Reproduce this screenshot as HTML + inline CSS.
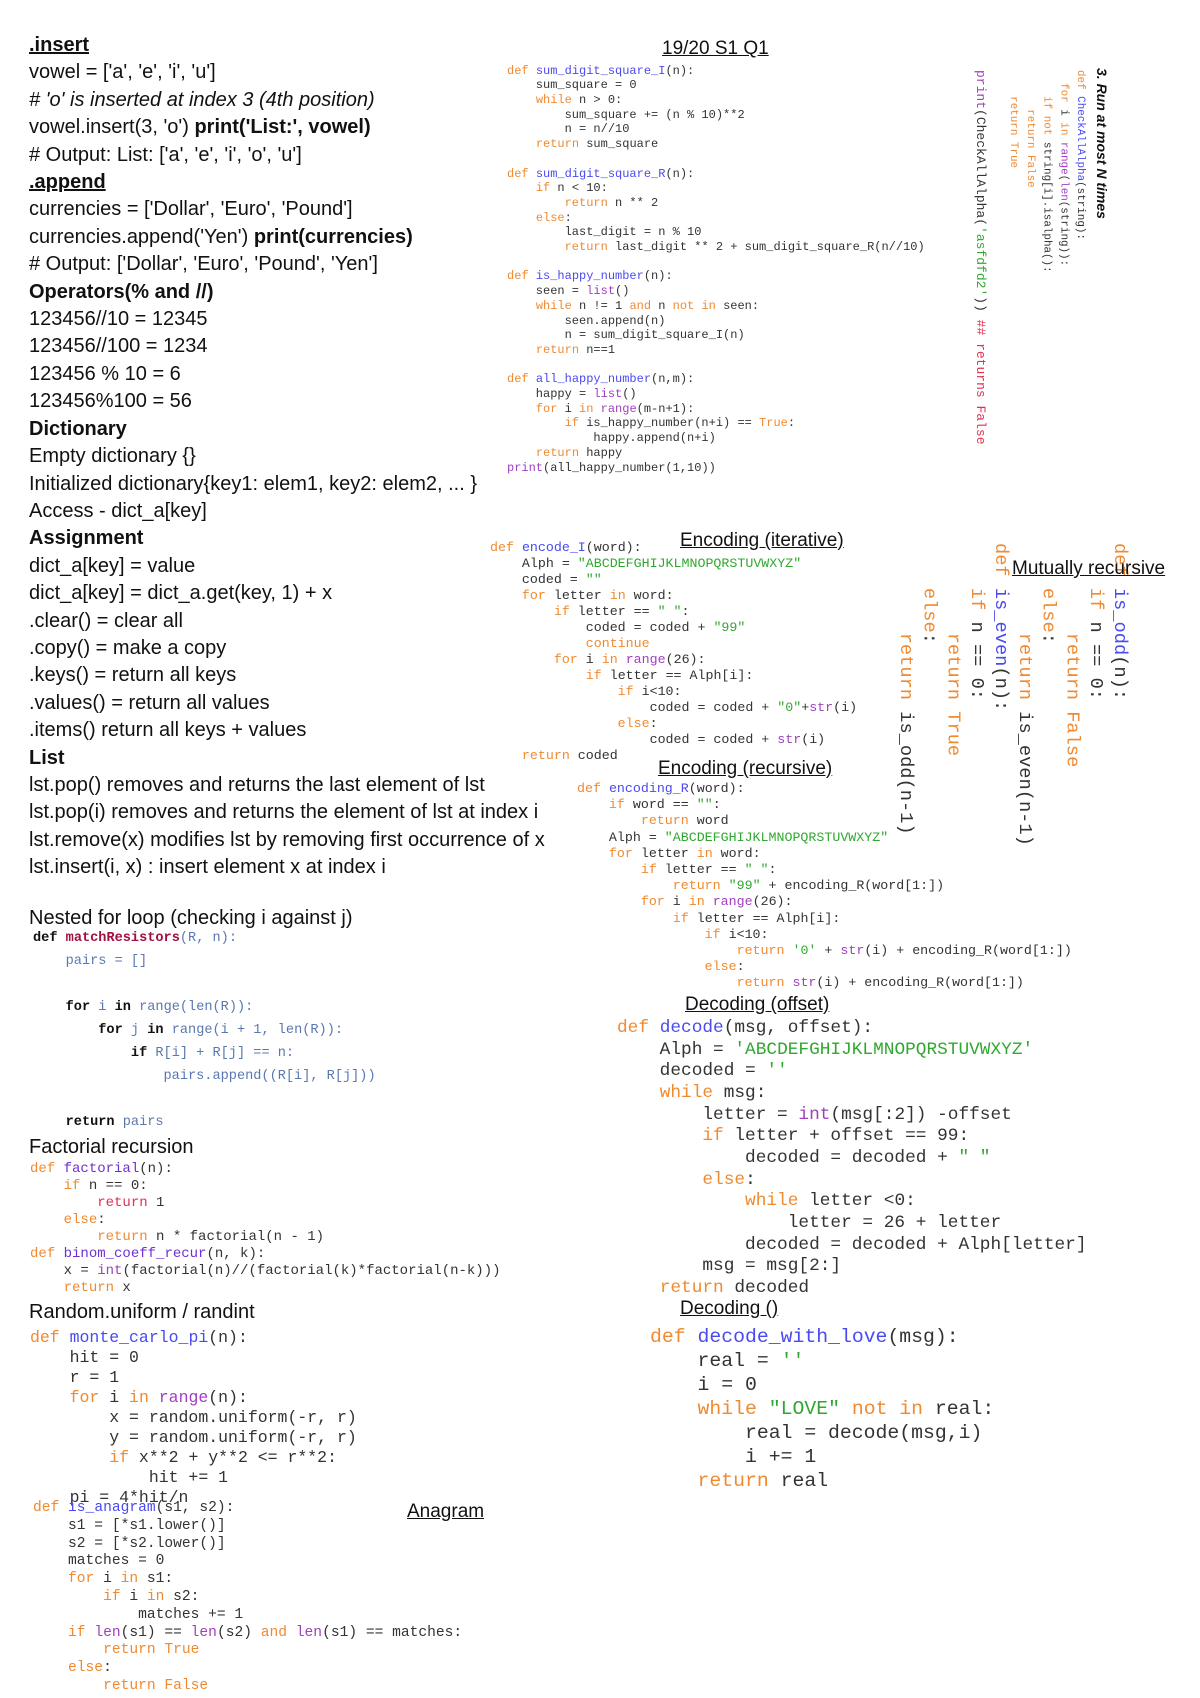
<!DOCTYPE html>
<html><head><meta charset="utf-8">
<style>
html,body{margin:0;padding:0;background:#fff;}
body{width:1200px;height:1698px;position:relative;overflow:hidden;font-family:"Liberation Sans",sans-serif;color:#111;}
.a{position:absolute;white-space:pre;margin:0;}
.m{font-family:"Liberation Mono",monospace;color:#333;}
.k{color:#f08a30}.f{color:#4a4af0}.b{color:#a040c0}.s{color:#30a830}.r{color:#e03050}
.h{font-size:19px;text-decoration:underline;color:#111;}
.v{writing-mode:vertical-rl;}
</style></head><body>

<div class="a" style="left:29px;top:32px;font-size:20px;line-height:27.4px;"><b><u>.insert</u></b>
vowel = ['a', 'e', 'i', 'u']
<i># 'o' is inserted at index 3 (4th position)</i>
vowel.insert(3, 'o') <b>print('List:', vowel)</b>
# Output: List: ['a', 'e', 'i', 'o', 'u']
<b><u>.append</u></b>
currencies = ['Dollar', 'Euro', 'Pound']
currencies.append('Yen') <b>print(currencies)</b>
# Output: ['Dollar', 'Euro', 'Pound', 'Yen']
<b>Operators(% and //)</b>
123456//10 = 12345
123456//100 = 1234
123456 % 10 = 6
123456%100 = 56
<b>Dictionary</b>
Empty dictionary {}
Initialized dictionary{key1: elem1, key2: elem2, ... }
Access - dict_a[key]
<b>Assignment</b>
dict_a[key] = value
dict_a[key] = dict_a.get(key, 1) + x
.clear() = clear all
.copy() = make a copy
.keys() = return all keys
.values() = return all values
.items() return all keys + values
<b>List</b>
lst.pop() removes and returns the last element of lst
lst.pop(i) removes and returns the element of lst at index i
lst.remove(x) modifies lst by removing first occurrence of x
lst.insert(i, x) : insert element x at index i</div>

<div class="a" style="left:29px;top:905px;font-size:20px;line-height:27px;">Nested for loop (checking i against j)</div>
<div class="a m" style="left:33px;top:926.5px;font-size:13.6px;line-height:23px;color:#5a78b0;"><b style="color:#111">def</b> <b style="color:#a01040">matchResistors</b>(R, n):
    pairs = []

    <b style="color:#111">for</b> i <b style="color:#111">in</b> range(len(R)):
        <b style="color:#111">for</b> j <b style="color:#111">in</b> range(i + 1, len(R)):
            <b style="color:#111">if</b> R[i] + R[j] == n:
                pairs.append((R[i], R[j]))

    <b style="color:#111">return</b> pairs</div>

<div class="a" style="left:29px;top:1134px;font-size:20px;line-height:27px;">Factorial recursion</div>
<div class="a m" style="left:30px;top:1160.5px;font-size:14px;line-height:17px;"><span class="k">def</span> <span class="f" style="color:#7030d0">factorial</span>(n):
    <span class="k">if</span> n == 0:
        <span class="r">return</span> 1
    <span class="k">else</span>:
        <span class="k">return</span> n * factorial(n - 1)
<span class="k">def</span> <span class="f" style="color:#7030d0">binom_coeff_recur</span>(n, k):
    x = <span class="b">int</span>(factorial(n)//(factorial(k)*factorial(n-k)))
    <span class="k">return</span> x</div>

<div class="a" style="left:29px;top:1299px;font-size:20px;line-height:27px;">Random.uniform / randint</div>
<div class="a m" style="left:30px;top:1328px;font-size:16.5px;line-height:20px;"><span class="k">def</span> <span class="f">monte_carlo_pi</span>(n):
    hit = 0
    r = 1
    <span class="k">for</span> i <span class="k">in</span> <span class="b">range</span>(n):
        x = random.uniform(-r, r)
        y = random.uniform(-r, r)
        <span class="k">if</span> x**2 + y**2 &lt;= r**2:
            hit += 1
    pi = 4*hit/n</div>
<div class="a m" style="left:33px;top:1500px;font-size:14.6px;line-height:17.8px;"><span class="k">def</span> <span class="f">is_anagram</span>(s1, s2):
    s1 = [*s1.lower()]
    s2 = [*s2.lower()]
    matches = 0
    <span class="k">for</span> i <span class="k">in</span> s1:
        <span class="k">if</span> i <span class="k">in</span> s2:
            matches += 1
    <span class="k">if</span> <span class="b">len</span>(s1) == <span class="b">len</span>(s2) <span class="k">and</span> <span class="b">len</span>(s1) == matches:
        <span class="k">return</span> <span class="k">True</span>
    <span class="k">else</span>:
        <span class="k">return</span> <span class="k">False</span></div>
<div class="a h" style="left:407px;top:1501px;">Anagram</div>

<div class="a h" style="left:662px;top:38px;">19/20 S1 Q1</div>
<div class="a m" style="left:507px;top:63.6px;font-size:12px;line-height:14.7px;"><span class="k">def</span> <span class="f">sum_digit_square_I</span>(n):
    sum_square = 0
    <span class="k">while</span> n &gt; 0:
        sum_square += (n % 10)**2
        n = n//10
    <span class="k">return</span> sum_square

<span class="k">def</span> <span class="f">sum_digit_square_R</span>(n):
    <span class="k">if</span> n &lt; 10:
        <span class="k">return</span> n ** 2
    <span class="k">else</span>:
        last_digit = n % 10
        <span class="k">return</span> last_digit ** 2 + sum_digit_square_R(n//10)

<span class="k">def</span> <span class="f">is_happy_number</span>(n):
    seen = <span class="b">list</span>()
    <span class="k">while</span> n != 1 <span class="k">and</span> n <span class="k">not in</span> seen:
        seen.append(n)
        n = sum_digit_square_I(n)
    <span class="k">return</span> n==1

<span class="k">def</span> <span class="f">all_happy_number</span>(n,m):
    happy = <span class="b">list</span>()
    <span class="k">for</span> i <span class="k">in</span> <span class="b">range</span>(m-n+1):
        <span class="k">if</span> is_happy_number(n+i) == <span class="k">True</span>:
            happy.append(n+i)
    <span class="k">return</span> happy
<span class="b">print</span>(all_happy_number(1,10))</div>

<div class="a v" style="left:1094px;top:68px;font-size:14px;line-height:16px;font-weight:bold;font-style:italic;">3. Run at most N times</div>
<div class="a m v" style="left:971px;top:70px;width:117px;font-size:10.9px;line-height:16.7px;"><span class="k">def</span> <span class="f">CheckAllAlpha</span>(string):
  <span class="k">for</span> i <span class="k">in</span> <span class="b">range</span>(<span class="b">len</span>(string)):
    <span class="k">if not</span> string[i].isalpha():
      <span class="k">return False</span>
    <span class="k">return True</span>

<span style="font-size:13px"><span class="b">print</span>(CheckAllAlpha(<span class="s">'asfdfd2'</span>)) <span class="r">## returns False</span></span></div>

<div class="a h" style="left:680px;top:530px;">Encoding (iterative)</div>
<div class="a m" style="left:490px;top:540px;font-size:13.3px;line-height:16px;"><span class="k">def</span> <span class="f">encode_I</span>(word):
    Alph = <span class="s">"ABCDEFGHIJKLMNOPQRSTUVWXYZ"</span>
    coded = <span class="s">""</span>
    <span class="k">for</span> letter <span class="k">in</span> word:
        <span class="k">if</span> letter == <span class="s">" "</span>:
            coded = coded + <span class="s">"99"</span>
            <span class="k">continue</span>
        <span class="k">for</span> i <span class="k">in</span> <span class="b">range</span>(26):
            <span class="k">if</span> letter == Alph[i]:
                <span class="k">if</span> i&lt;10:
                    coded = coded + <span class="s">"0"</span>+<span class="b">str</span>(i)
                <span class="k">else</span>:
                    coded = coded + <span class="b">str</span>(i)
    <span class="k">return</span> coded</div>

<div class="a h" style="left:658px;top:758px;">Encoding (recursive)</div>
<div class="a m" style="left:577px;top:781px;font-size:13.3px;line-height:16.2px;"><span class="k">def</span> <span class="f">encoding_R</span>(word):
    <span class="k">if</span> word == <span class="s">""</span>:
        <span class="k">return</span> word
    Alph = <span class="s">"ABCDEFGHIJKLMNOPQRSTUVWXYZ"</span>
    <span class="k">for</span> letter <span class="k">in</span> word:
        <span class="k">if</span> letter == <span class="s">" "</span>:
            <span class="k">return</span> <span class="s">"99"</span> + encoding_R(word[1:])
        <span class="k">for</span> i <span class="k">in</span> <span class="b">range</span>(26):
            <span class="k">if</span> letter == Alph[i]:
                <span class="k">if</span> i&lt;10:
                    <span class="k">return</span> <span class="s">'0'</span> + <span class="b">str</span>(i) + encoding_R(word[1:])
                <span class="k">else</span>:
                    <span class="k">return</span> <span class="b">str</span>(i) + encoding_R(word[1:])</div>

<div class="a m v" style="left:893px;top:543px;width:238px;font-size:18.7px;line-height:23.8px;"><span class="k">def</span> <span class="f">is_odd</span>(n):
<span class="k">    if</span> n == 0:
<span class="k">        return False</span>
<span class="k">    else</span>:
<span class="k">        return</span> is_even(n-1)
<span class="k">def</span> <span class="f">is_even</span>(n):
<span class="k">    if</span> n == 0:
<span class="k">        return True</span>
<span class="k">    else</span>:
<span class="k">        return</span> is_odd(n-1)</div>
<div class="a h" style="left:1012px;top:558px;">Mutually recursive</div>

<div class="a h" style="left:685px;top:994px;">Decoding (offset)</div>
<div class="a m" style="left:617px;top:1018px;font-size:17.8px;line-height:21.65px;"><span class="k">def</span> <span class="f">decode</span>(msg, offset):
    Alph = <span class="s">'ABCDEFGHIJKLMNOPQRSTUVWXYZ'</span>
    decoded = <span class="s">''</span>
    <span class="k">while</span> msg:
        letter = <span class="b">int</span>(msg[:2]) -offset
        <span class="k">if</span> letter + offset == 99:
            decoded = decoded + <span class="s">" "</span>
        <span class="k">else</span>:
            <span class="k">while</span> letter &lt;0:
                letter = 26 + letter
            decoded = decoded + Alph[letter]
        msg = msg[2:]
    <span class="k">return</span> decoded</div>

<div class="a h" style="left:680px;top:1298px;">Decoding ()</div>
<div class="a m" style="left:650px;top:1325px;font-size:19.8px;line-height:24px;"><span class="k">def</span> <span class="f">decode_with_love</span>(msg):
    real = <span class="s">''</span>
    i = 0
    <span class="k">while</span> <span class="s">"LOVE"</span> <span class="k">not in</span> real:
        real = decode(msg,i)
        i += 1
    <span class="k">return</span> real</div>

</body></html>
